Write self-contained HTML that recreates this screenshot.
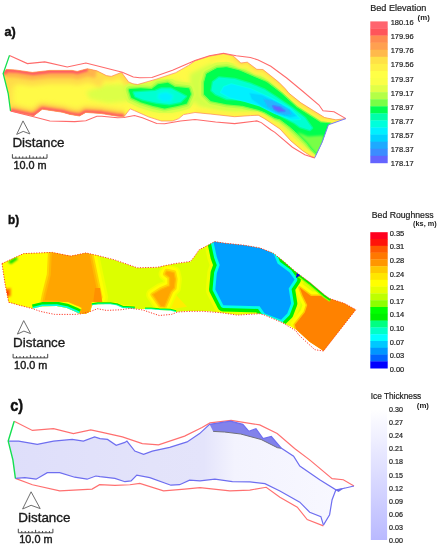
<!DOCTYPE html>
<html><head><meta charset="utf-8"><title>Figure</title>
<style>
html,body{margin:0;padding:0;background:#fff;}
body{width:442px;height:550px;overflow:hidden;font-family:"Liberation Sans",sans-serif;}
svg{display:block;}
text{font-family:"Liberation Sans",sans-serif;}
</style></head><body>
<svg width="442" height="550" viewBox="0 0 442 550">
<defs>
<filter id="b1" x="-20%" y="-20%" width="140%" height="140%"><feGaussianBlur stdDeviation="1"/></filter>
<filter id="b15" x="-20%" y="-20%" width="140%" height="140%"><feGaussianBlur stdDeviation="1.5"/></filter>
<filter id="b2" x="-20%" y="-20%" width="140%" height="140%"><feGaussianBlur stdDeviation="2"/></filter>
<filter id="b3" x="-30%" y="-30%" width="160%" height="160%"><feGaussianBlur stdDeviation="3"/></filter>
<filter id="b05" x="-20%" y="-20%" width="140%" height="140%"><feGaussianBlur stdDeviation="0.5"/></filter>

<clipPath id="ca"><polygon points="3.3,73.5 6.2,69.4 15.0,69.9 32.4,72.4 49.8,70.4 72.2,70.4 77.2,71.4 87.4,68.7 96.9,70.8 106.4,75.6 111.2,76.4 121.5,72.4 128.6,81.9 132.9,83.8 137.7,84.5 156.7,79.0 175.7,72.7 188.4,65.5 195.0,60.8 209.5,56.2 223.5,53.7 233.0,55.8 240.9,63.0 247.3,62.2 256.8,69.3 262.9,69.5 270.8,75.8 278.8,82.2 285.1,88.5 289.0,93.3 300.9,102.8 313.6,110.7 324.7,117.6 335.9,119.8 345.9,118.6 328.4,124.8 322.2,142.2 314.8,157.7 311.7,156.8 302.2,150.4 291.0,141.0 280.0,129.0 264.7,118.8 258.3,115.2 250.4,115.6 234.6,116.7 210.8,114.1 195.0,112.5 183.6,114.6 178.8,118.6 172.5,121.0 161.4,121.0 148.8,117.0 134.5,110.7 130.2,108.8 123.9,116.8 115.9,116.0 101.7,113.6 85.8,112.4 79.5,116.0 70.0,114.4 62.2,112.2 42.3,109.2 33.6,115.9 10.5,110.9 8.2,93.5"/></clipPath>
<clipPath id="cb"><polygon points="2.0,263.6 23.5,253.6 52.3,252.4 70.9,256.1 85.9,252.9 100.0,256.1 114.9,259.9 137.3,267.8 157.2,267.3 174.7,263.6 180.0,262.9 190.3,261.5 194.0,257.1 199.1,249.7 207.9,245.3 214.6,241.6 224.1,243.1 244.7,245.3 260.0,247.9 273.2,253.1 283.5,261.2 295.3,271.5 301.2,275.9 310.0,282.5 324.7,295.0 329.6,298.5 344.6,303.5 355.8,309.7 323.5,351.0 309.7,342.0 296.0,329.6 282.4,322.2 264.9,314.7 259.6,313.4 237.2,314.8 220.9,312.4 202.6,311.0 190.4,311.0 176.0,312.0 170.0,310.4 159.2,310.0 151.0,309.3 145.0,309.3 134.8,308.7 122.6,307.9 116.5,305.3 110.4,304.3 98.1,304.3 92.0,305.3 90.3,311.4 85.9,313.8 79.0,313.4 75.0,311.4 66.8,307.9 56.7,305.9 42.4,306.3 33.0,308.6 20.0,305.4 8.7,302.2 5.0,283.5"/></clipPath>
<clipPath id="cc"><polygon points="8.2,441.1 18.7,441.1 37.3,444.3 53.5,441.1 72.2,439.4 83.4,441.1 94.6,436.9 100.0,438.6 107.5,439.4 116.2,445.3 124.9,442.4 126.9,441.1 134.8,451.1 143.6,454.3 152.3,451.1 169.7,447.3 187.1,441.9 199.6,433.6 209.6,424.3 230.5,421.2 242.8,424.3 248.9,431.4 256.0,428.7 263.1,438.5 271.3,436.5 281.5,448.3 293.6,456.2 299.8,466.1 319.7,479.8 335.9,489.8 332.1,499.7 329.6,514.7 323.4,525.1 320.9,516.7 309.7,512.2 299.8,502.2 279.9,491.0 264.9,483.6 250.0,481.8 232.4,481.6 214.9,479.1 200.0,480.9 189.6,480.2 179.6,484.7 170.9,485.2 149.8,477.7 136.8,475.2 131.1,480.9 124.9,481.7 114.9,478.4 100.0,476.7 95.8,476.0 87.1,479.2 74.7,477.2 59.7,472.7 47.3,472.7 36.1,479.2 24.9,477.7 15.4,478.4 12.9,459.8"/></clipPath>
<linearGradient id="gc" gradientUnits="userSpaceOnUse" x1="0" y1="0" x2="340" y2="0"><stop offset="0" stop-color="#dedefa"/><stop offset="0.45" stop-color="#e3e3fa"/><stop offset="0.6" stop-color="#e4e4fb"/><stop offset="0.69" stop-color="#f3f3fe"/><stop offset="1" stop-color="#f8f8ff"/></linearGradient>
<linearGradient id="gbar" x1="0" y1="0" x2="0" y2="1"><stop offset="0" stop-color="#ffffff"/><stop offset="1" stop-color="#b9b9ff"/></linearGradient>
</defs>
<rect width="442" height="550" fill="#fff"/>
<g clip-path="url(#ca)">
<polygon points="3.3,73.5 6.2,69.4 15.0,69.9 32.4,72.4 49.8,70.4 72.2,70.4 77.2,71.4 87.4,68.7 96.9,70.8 106.4,75.6 111.2,76.4 121.5,72.4 128.6,81.9 132.9,83.8 137.7,84.5 156.7,79.0 175.7,72.7 188.4,65.5 195.0,60.8 209.5,56.2 223.5,53.7 233.0,55.8 240.9,63.0 247.3,62.2 256.8,69.3 262.9,69.5 270.8,75.8 278.8,82.2 285.1,88.5 289.0,93.3 300.9,102.8 313.6,110.7 324.7,117.6 335.9,119.8 345.9,118.6 328.4,124.8 322.2,142.2 314.8,157.7 311.7,156.8 302.2,150.4 291.0,141.0 280.0,129.0 264.7,118.8 258.3,115.2 250.4,115.6 234.6,116.7 210.8,114.1 195.0,112.5 183.6,114.6 178.8,118.6 172.5,121.0 161.4,121.0 148.8,117.0 134.5,110.7 130.2,108.8 123.9,116.8 115.9,116.0 101.7,113.6 85.8,112.4 79.5,116.0 70.0,114.4 62.2,112.2 42.3,109.2 33.6,115.9 10.5,110.9 8.2,93.5" fill="#fffa46"/>
<g filter="url(#b3)">
<polygon points="0,60 18,60 20,75 12,90 12,105 20,120 0,125" fill="#ffdc48"/>
</g>
<g filter="url(#b2)">
<polygon points="86,92 105,85 128,84 128,101 108,103 90,99" fill="#dcff46"/>
<polygon points="190,74 210,64 240,70 262,78 285,97 312,112 335,121 322,150 300,142 280,124 255,113 225,112 198,106 190,95" fill="#d2ff46"/>
<polygon points="124,87 150,83 166,79 182,82 196,88 195,100 188,108 172,112 152,111 138,106 126,98" fill="#d2ff46"/>
</g>
<g filter="url(#b2)">
<polyline points="3.3,73.5 6.2,69.4 15.0,69.9 32.4,72.4 49.8,70.4 72.2,70.4 77.2,71.4 87.4,68.7 96.9,70.8 106.4,75.6" fill="none" stroke="#ffdc48" stroke-width="27" stroke-linejoin="round"/>
<polyline points="10.5,110.9 33.6,115.9 42.3,109.2 62.2,112.2 70.0,114.4 79.5,116.0 85.8,112.4 101.7,113.6 115.9,116.0 123.9,116.8" fill="none" stroke="#ffdc48" stroke-width="14" stroke-linejoin="round"/>
<polyline points="96.9,70.8 106.4,75.6 111.2,76.4 121.5,72.4 128.6,81.9 132.9,83.8" fill="none" stroke="#ffdc48" stroke-width="9" stroke-linejoin="round"/>
</g>
<g filter="url(#b15)">
<polyline points="3.3,73.5 6.2,69.4 15.0,69.9 32.4,72.4 49.8,70.4 72.2,70.4 77.2,71.4 87.4,68.7 96.9,70.8" fill="none" stroke="#ffb44c" stroke-width="15" stroke-linejoin="round"/>
<polyline points="10.5,110.9 33.6,115.9 42.3,109.2 62.2,112.2 70.0,114.4 79.5,116.0 85.8,112.4 101.7,113.6 115.9,116.0 123.9,116.8" fill="none" stroke="#ffb44c" stroke-width="8.5" stroke-linejoin="round"/>
</g>
<g filter="url(#b1)">
<polyline points="3.3,73.5 6.2,69.4 15.0,69.9 32.4,72.4 49.8,70.4 72.2,70.4 77.2,71.4 87.4,68.7" fill="none" stroke="#ff5a64" stroke-width="5.5" stroke-linejoin="round"/>
<polyline points="10.5,110.9 33.6,115.9 42.3,109.2 62.2,112.2 70.0,114.4 79.5,116.0 85.8,112.4 101.7,113.6 115.9,116.0 123.9,116.8" fill="none" stroke="#ff5a64" stroke-width="4.5" stroke-linejoin="round"/>
<polygon points="22,113 33.6,117 42.3,109.2 46,109.5 36,112.5 30,113" fill="#ff5a64"/>
</g>
<g filter="url(#b05)">
<polygon points="129.8,90.1 140.8,89.3 151.9,90.1 158.3,85.3 167.8,83.8 174.1,87.7 188.4,89.3 189.9,94.1 186.0,102.8 177.3,105.1 164.6,107.5 153.5,105.1 140.8,101.2 132.1,97.2" fill="#00ff50" stroke="#d7ff46" stroke-width="13" stroke-linejoin="round"/>
<polygon points="129.8,90.1 140.8,89.3 151.9,90.1 158.3,85.3 167.8,83.8 174.1,87.7 188.4,89.3 189.9,94.1 186.0,102.8 177.3,105.1 164.6,107.5 153.5,105.1 140.8,101.2 132.1,97.2" fill="#00ff50" stroke="#b4ff46" stroke-width="8" stroke-linejoin="round"/>
<polygon points="129.8,90.1 140.8,89.3 151.9,90.1 158.3,85.3 167.8,83.8 174.1,87.7 188.4,89.3 189.9,94.1 186.0,102.8 177.3,105.1 164.6,107.5 153.5,105.1 140.8,101.2 132.1,97.2" fill="#00ff50" stroke="#78ff46" stroke-width="4.5" stroke-linejoin="round"/>
<polygon points="129.8,90.1 140.8,89.3 151.9,90.1 158.3,85.3 167.8,83.8 174.1,87.7 188.4,89.3 189.9,94.1 186.0,102.8 177.3,105.1 164.6,107.5 153.5,105.1 140.8,101.2 132.1,97.2" fill="#00ff50" stroke="#00ff50" stroke-width="2" stroke-linejoin="round"/>
<polygon points="129.8,90.1 140.8,89.3 151.9,90.1 158.3,85.3 167.8,83.8 174.1,87.7 188.4,89.3 189.9,94.1 186.0,102.8 177.3,105.1 164.6,107.5 153.5,105.1 140.8,101.2 132.1,97.2" fill="#00ff50"/>
</g>
<g filter="url(#b05)">
<polygon points="133.7,92.5 144.0,91.7 155.1,90.9 161.4,88.5 170.9,88.5 178.8,92.5 186.0,96.4 180.4,102.0 169.3,104.3 156.7,102.8 142.4,99.6 135.3,96.4" fill="#00ffd2" stroke="#00ff96" stroke-width="2.5" stroke-linejoin="round"/>
<polygon points="133.7,92.5 144.0,91.7 155.1,90.9 161.4,88.5 170.9,88.5 178.8,92.5 186.0,96.4 180.4,102.0 169.3,104.3 156.7,102.8 142.4,99.6 135.3,96.4" fill="#00ffd2"/>
</g>
<g filter="url(#b1)">
<polygon points="159.0,94.0 166.2,92.5 172.5,95.6 170.9,100.4 163.0,101.2 158.3,98.0" fill="#00f0ff" stroke="#00fff0" stroke-width="2" stroke-linejoin="round"/>
<polygon points="159.0,94.0 166.2,92.5 172.5,95.6 170.9,100.4 163.0,101.2 158.3,98.0" fill="#00f0ff"/>
</g>
<g filter="url(#b05)">
<polygon points="204.5,82.8 206.9,74.1 217.2,68.5 226.7,67.7 239.3,70.9 252.0,76.4 266.5,82.5 280.8,93.4 296.6,107.7 309.5,115.9 320.5,122.9 330.0,124.0 324.0,143.0 318.8,155.0 316.4,153.6 311.7,148.8 306.9,142.5 299.0,134.6 289.5,125.9 280.0,118.8 275.0,117.5 264.7,111.7 258.3,109.3 242.5,105.3 226.7,103.8 210.8,100.6 204.5,94.3" fill="none" stroke="#d7ff46" stroke-width="12" stroke-linejoin="round"/>
<polygon points="204.5,82.8 206.9,74.1 217.2,68.5 226.7,67.7 239.3,70.9 252.0,76.4 266.5,82.5 280.8,93.4 296.6,107.7 309.5,115.9 320.5,122.9 330.0,124.0 324.0,143.0 318.8,155.0 316.4,153.6 311.7,148.8 306.9,142.5 299.0,134.6 289.5,125.9 280.0,118.8 275.0,117.5 264.7,111.7 258.3,109.3 242.5,105.3 226.7,103.8 210.8,100.6 204.5,94.3" fill="none" stroke="#b4ff46" stroke-width="7" stroke-linejoin="round"/>
</g>
<g filter="url(#b1)">
<polyline points="209.5,56.2 223.5,53.7 233.0,55.8 240.9,63.0 247.3,62.2 256.8,69.3 262.9,69.5 270.8,75.8 278.8,82.2 285.1,88.5 289.0,93.3 300.9,102.8 313.6,110.7 324.7,117.6 335.9,119.8 345.9,118.6" fill="none" stroke="#fff246" stroke-width="11" stroke-linejoin="round"/>
<polyline points="233.0,55.8 240.9,63.0 247.3,62.2 256.8,69.3 262.9,69.5 270.8,75.8 278.8,82.2 285.1,88.5 289.0,93.3 300.9,102.8 313.6,110.7 324.7,117.6" fill="none" stroke="#ffe048" stroke-width="4" stroke-linejoin="round"/>
<polyline points="195.0,112.5 210.8,114.1 234.6,116.7 250.4,115.6 258.3,115.2 264.7,118.8 280.0,129.0 291.0,141.0 302.2,150.4 311.7,156.8 314.8,157.7" fill="none" stroke="#fff246" stroke-width="8" stroke-linejoin="round"/>
</g>
<g filter="url(#b05)">
<polygon points="204.5,82.8 206.9,74.1 217.2,68.5 226.7,67.7 239.3,70.9 252.0,76.4 266.5,82.5 280.8,93.4 296.6,107.7 309.5,115.9 320.5,122.9 330.0,124.0 324.0,143.0 318.8,155.0 316.4,153.6 311.7,148.8 306.9,142.5 299.0,134.6 289.5,125.9 280.0,118.8 275.0,117.5 264.7,111.7 258.3,109.3 242.5,105.3 226.7,103.8 210.8,100.6 204.5,94.3" fill="#00ff50" stroke="#78ff46" stroke-width="3.5" stroke-linejoin="round"/>
<polygon points="204.5,82.8 206.9,74.1 217.2,68.5 226.7,67.7 239.3,70.9 252.0,76.4 266.5,82.5 280.8,93.4 296.6,107.7 309.5,115.9 320.5,122.9 330.0,124.0 324.0,143.0 318.8,155.0 316.4,153.6 311.7,148.8 306.9,142.5 299.0,134.6 289.5,125.9 280.0,118.8 275.0,117.5 264.7,111.7 258.3,109.3 242.5,105.3 226.7,103.8 210.8,100.6 204.5,94.3" fill="#00ff50" stroke="#00ff50" stroke-width="1" stroke-linejoin="round"/>
<polygon points="204.5,82.8 206.9,74.1 217.2,68.5 226.7,67.7 239.3,70.9 252.0,76.4 266.5,82.5 280.8,93.4 296.6,107.7 309.5,115.9 320.5,122.9 330.0,124.0 324.0,143.0 318.8,155.0 316.4,153.6 311.7,148.8 306.9,142.5 299.0,134.6 289.5,125.9 280.0,118.8 275.0,117.5 264.7,111.7 258.3,109.3 242.5,105.3 226.7,103.8 210.8,100.6 204.5,94.3" fill="#00ff50"/>
</g>
<polygon points="297,132 308,136.5 323.5,135.5 322,148.8 318.8,154.6 316.4,153.6 311.7,148.8 306.9,142.5 299,134.6" fill="#78ff46" filter="url(#b1)"/>
<g filter="url(#b05)">
<polygon points="211.5,90.5 213.0,82.0 219.0,77.5 234.6,79.0 250.4,83.7 264.7,89.7 276.0,97.0 292.0,108.0 305.0,118.0 312.0,128.0 309.8,130.0 300.0,127.0 294.6,123.0 283.0,117.0 274.7,112.0 264.7,106.1 258.3,103.8 242.5,99.8 226.7,99.0 215.6,94.3" fill="#00ffd2" stroke="#00ff96" stroke-width="2.5" stroke-linejoin="round"/>
<polygon points="211.5,90.5 213.0,82.0 219.0,77.5 234.6,79.0 250.4,83.7 264.7,89.7 276.0,97.0 292.0,108.0 305.0,118.0 312.0,128.0 309.8,130.0 300.0,127.0 294.6,123.0 283.0,117.0 274.7,112.0 264.7,106.1 258.3,103.8 242.5,99.8 226.7,99.0 215.6,94.3" fill="#00ffd2"/>
</g>
<g filter="url(#b05)">
<polygon points="221.0,92.3 224.0,87.0 231.4,84.3 250.4,89.1 270.0,98.0 290.0,109.0 300.0,119.0 292.0,119.5 275.0,113.0 260.0,105.5 245.0,101.0 230.0,97.5" fill="#00f0ff" stroke="#00fff0" stroke-width="2" stroke-linejoin="round"/>
<polygon points="221.0,92.3 224.0,87.0 231.4,84.3 250.4,89.1 270.0,98.0 290.0,109.0 300.0,119.0 292.0,119.5 275.0,113.0 260.0,105.5 245.0,101.0 230.0,97.5" fill="#00f0ff"/>
</g>
<g filter="url(#b05)">
<polygon points="250.0,93.5 262.0,95.5 276.0,102.5 290.0,110.0 296.0,116.0 290.0,117.0 276.0,113.0 262.0,106.0 252.0,99.0" fill="#00d7ff" stroke="#00e8ff" stroke-width="2" stroke-linejoin="round"/>
<polygon points="250.0,93.5 262.0,95.5 276.0,102.5 290.0,110.0 296.0,116.0 290.0,117.0 276.0,113.0 262.0,106.0 252.0,99.0" fill="#00d7ff"/>
</g>
<g filter="url(#b05)">
<polygon points="264.0,99.5 272.0,101.0 281.0,105.5 289.0,110.5 291.0,114.0 285.0,114.5 277.0,112.0 268.0,106.5" fill="#28b4ff" stroke="#10c8ff" stroke-width="2" stroke-linejoin="round"/>
<polygon points="264.0,99.5 272.0,101.0 281.0,105.5 289.0,110.5 291.0,114.0 285.0,114.5 277.0,112.0 268.0,106.5" fill="#28b4ff"/>
</g>
<g filter="url(#b05)">
<polygon points="273.0,106.0 280.0,107.5 284.5,111.0 279.0,111.3 274.5,109.0" fill="#6464ff" stroke="#3c8cff" stroke-width="2.5" stroke-linejoin="round"/>
<polygon points="273.0,106.0 280.0,107.5 284.5,111.0 279.0,111.3 274.5,109.0" fill="#6464ff"/>
</g>
</g>
<polyline points="3.3,73.5 6.2,69.4 15.0,69.9 32.4,72.4 49.8,70.4 72.2,70.4 77.2,71.4 87.4,68.7 96.9,70.8 106.4,75.6 111.2,76.4 121.5,72.4 128.6,81.9 132.9,83.8 137.7,84.5 156.7,79.0 175.7,72.7 188.4,65.5 195.0,60.8 209.5,56.2 223.5,53.7 233.0,55.8 240.9,63.0 247.3,62.2 256.8,69.3 262.9,69.5 270.8,75.8 278.8,82.2 285.1,88.5 289.0,93.3 300.9,102.8 313.6,110.7 324.7,117.6 335.9,119.8 345.9,118.6" fill="none" stroke="#ff8c5a" stroke-width="1" stroke-opacity="0.75"/>
<polyline points="10.5,110.9 33.6,115.9 42.3,109.2 62.2,112.2 70.0,114.4 79.5,116.0 85.8,112.4 101.7,113.6 115.9,116.0 123.9,116.8 130.2,108.8 134.5,110.7 148.8,117.0 161.4,121.0 172.5,121.0 178.8,118.6 183.6,114.6 195.0,112.5 210.8,114.1 234.6,116.7 250.4,115.6 258.3,115.2 264.7,118.8 280.0,129.0 291.0,141.0 302.2,150.4 311.7,156.8 314.8,157.7" fill="none" stroke="#ff8c5a" stroke-width="1" stroke-opacity="0.75"/>
<polyline points="9.5,55.4 27.4,63.6 44.8,61.9 67.2,66.9 85.9,63.1 101.7,66.9 122.3,72.2 133.3,77.0 139.7,77.8 151.9,77.4 172.5,70.3 185.2,64.8 195.0,60.4 209.5,55.8 223.5,53.2 236.2,55.8 250.4,57.4 258.2,60.0 270.8,66.3 286.7,78.0 303.0,91.5 319.0,105.0 323.0,110.8 334.0,111.8 345.9,118.6" fill="none" stroke="#ff6a6a" stroke-width="1.05"/>
<polyline points="10.5,110.9 33.6,116.7 49.8,120.9 74.7,121.6 85.8,120.7 96.9,116.3 101.7,116.3 117.5,117.8 123.9,117.4 134.5,115.6 142.4,117.8 156.7,123.4 164.6,123.7 180.4,121.0 195.0,119.6 215.6,122.0 234.6,123.6 256.8,120.9 261.3,122.6 270.8,129.7 274.9,132.3 292.4,147.2 304.8,154.7 314.8,158.1" fill="none" stroke="#ff6a6a" stroke-width="1.05"/>
<polyline points="9.5,55.4 3.2,73.6 8.2,93.5 10.5,110.9" fill="none" stroke="#14e050" stroke-width="1.3"/>
<polyline points="345.9,118.6 328.4,124.8 322.2,142.2 314.8,157.7" fill="none" stroke="#7a7aff" stroke-width="1"/>
<g clip-path="url(#cb)">
<polygon points="2.0,263.6 23.5,253.6 52.3,252.4 70.9,256.1 85.9,252.9 100.0,256.1 114.9,259.9 137.3,267.8 157.2,267.3 174.7,263.6 180.0,262.9 190.3,261.5 194.0,257.1 199.1,249.7 207.9,245.3 214.6,241.6 224.1,243.1 244.7,245.3 260.0,247.9 273.2,253.1 283.5,261.2 295.3,271.5 301.2,275.9 310.0,282.5 324.7,295.0 329.6,298.5 344.6,303.5 355.8,309.7 323.5,351.0 309.7,342.0 296.0,329.6 282.4,322.2 264.9,314.7 259.6,313.4 237.2,314.8 220.9,312.4 202.6,311.0 190.4,311.0 176.0,312.0 170.0,310.4 159.2,310.0 151.0,309.3 145.0,309.3 134.8,308.7 122.6,307.9 116.5,305.3 110.4,304.3 98.1,304.3 92.0,305.3 90.3,311.4 85.9,313.8 79.0,313.4 75.0,311.4 66.8,307.9 56.7,305.9 42.4,306.3 33.0,308.6 20.0,305.4 8.7,302.2 5.0,283.5" fill="#dcff00"/>
<g filter="url(#b05)">
<polygon points="51.0,250.0 89.6,250.0 95.8,279.8 99.6,297.2 92.3,304.3 90.3,311.4 85.9,316.0 79.0,313.4 75.0,311.4 70.0,304.5 60.0,302.0 43.6,300.9 44.8,294.7 49.8,274.8" fill="#ffa500" stroke="#f0ff00" stroke-width="17" stroke-linejoin="round"/>
</g>
<g filter="url(#b1)">
<polygon points="0,240 60,240 60,320 0,320" fill="#ffff00"/>
</g>
<g filter="url(#b05)">
<polygon points="51.0,250.0 89.6,250.0 95.8,279.8 99.6,297.2 92.3,304.3 90.3,311.4 85.9,316.0 79.0,313.4 75.0,311.4 70.0,304.5 60.0,302.0 43.6,300.9 44.8,294.7 49.8,274.8" fill="#ffa500" stroke="#ffff00" stroke-width="12" stroke-linejoin="round"/>
<polygon points="51.0,250.0 89.6,250.0 95.8,279.8 99.6,297.2 92.3,304.3 90.3,311.4 85.9,316.0 79.0,313.4 75.0,311.4 70.0,304.5 60.0,302.0 43.6,300.9 44.8,294.7 49.8,274.8" fill="#ffa500" stroke="#ffd200" stroke-width="6" stroke-linejoin="round"/>
<polygon points="51.0,250.0 89.6,250.0 95.8,279.8 99.6,297.2 92.3,304.3 90.3,311.4 85.9,316.0 79.0,313.4 75.0,311.4 70.0,304.5 60.0,302.0 43.6,300.9 44.8,294.7 49.8,274.8" fill="#ffa500" stroke="#ffb800" stroke-width="2" stroke-linejoin="round"/>
<polygon points="95,288 100,288 102.5,303 93,304" fill="#ff9000" filter="url(#b05)"/>
<polygon points="171,291 185,306 165,309" fill="#ffee00" stroke="#ffee00" stroke-width="2"/>
<polygon points="166.6,271.0 174.0,272.5 175.4,279.1 174.4,287.9 171.0,291.6 164.4,307.0 160.7,306.3 152.6,294.6 160.7,289.4 169.6,285.7 169.6,277.6 165.1,274.0" fill="#ffa500" stroke="#f0ff00" stroke-width="13" stroke-linejoin="round"/>
<polygon points="166.6,271.0 174.0,272.5 175.4,279.1 174.4,287.9 171.0,291.6 164.4,307.0 160.7,306.3 152.6,294.6 160.7,289.4 169.6,285.7 169.6,277.6 165.1,274.0" fill="#ffa500" stroke="#ffff00" stroke-width="9.5" stroke-linejoin="round"/>
<polygon points="166.6,271.0 174.0,272.5 175.4,279.1 174.4,287.9 171.0,291.6 164.4,307.0 160.7,306.3 152.6,294.6 160.7,289.4 169.6,285.7 169.6,277.6 165.1,274.0" fill="#ffa500" stroke="#ffd800" stroke-width="4.5" stroke-linejoin="round"/>
<polygon points="166.6,271.0 174.0,272.5 175.4,279.1 174.4,287.9 171.0,291.6 164.4,307.0 160.7,306.3 152.6,294.6 160.7,289.4 169.6,285.7 169.6,277.6 165.1,274.0" fill="#ffa500" stroke="#ffb800" stroke-width="1.2" stroke-linejoin="round"/>
</g>
<g filter="url(#b05)">
<polygon points="213.1,240.0 224.1,240.0 244.7,242.0 260.0,245.0 274.0,254.6 277.6,263.4 289.4,272.2 294.6,279.6 288.7,288.4 291.1,303.5 287.3,313.5 281.1,319.7 264.7,313.4 259.6,306.3 223.3,305.3 215.3,289.4 216.8,273.2 219.7,265.1 216.8,257.1" fill="none" stroke="#f0ff00" stroke-width="19" stroke-linejoin="round"/>
<polygon points="299.7,287.6 311.0,296.0 329.6,296.0 344.6,300.0 360.0,309.7 323.5,356.0 309.7,344.0 297.4,334.0 294.9,324.8 304.8,312.4 307.3,304.9 302.4,295.0" fill="#ff8200" stroke="#ffff00" stroke-width="9" stroke-linejoin="round"/>
<polygon points="299.7,287.6 311.0,296.0 329.6,296.0 344.6,300.0 360.0,309.7 323.5,356.0 309.7,344.0 297.4,334.0 294.9,324.8 304.8,312.4 307.3,304.9 302.4,295.0" fill="#ff8200" stroke="#ffc800" stroke-width="3" stroke-linejoin="round"/>
<polygon points="213.1,240.0 224.1,240.0 244.7,242.0 260.0,245.0 274.0,254.6 277.6,263.4 289.4,272.2 294.6,279.6 288.7,288.4 291.1,303.5 287.3,313.5 281.1,319.7 264.7,313.4 259.6,306.3 223.3,305.3 215.3,289.4 216.8,273.2 219.7,265.1 216.8,257.1" fill="none" stroke="#00f000" stroke-width="12.5" stroke-linejoin="round"/>
<polygon points="213.1,240.0 224.1,240.0 244.7,242.0 260.0,245.0 274.0,254.6 277.6,263.4 289.4,272.2 294.6,279.6 288.7,288.4 291.1,303.5 287.3,313.5 281.1,319.7 264.7,313.4 259.6,306.3 223.3,305.3 215.3,289.4 216.8,273.2 219.7,265.1 216.8,257.1" fill="#00a0ff" stroke="#00ffe6" stroke-width="5.5" stroke-linejoin="round"/>
<polygon points="213.1,240.0 224.1,240.0 244.7,242.0 260.0,245.0 274.0,254.6 277.6,263.4 289.4,272.2 294.6,279.6 288.7,288.4 291.1,303.5 287.3,313.5 281.1,319.7 264.7,313.4 259.6,306.3 223.3,305.3 215.3,289.4 216.8,273.2 219.7,265.1 216.8,257.1" fill="#00a0ff"/>
<polygon points="299.7,287.6 311.0,296.0 329.6,296.0 344.6,300.0 360.0,309.7 323.5,356.0 309.7,344.0 297.4,334.0 294.9,324.8 304.8,312.4 307.3,304.9 302.4,295.0" fill="#ff8200"/>
<polyline points="297.0,273.0 301.2,275.9 310.0,282.5 324.7,295.0 331.0,299.3" fill="none" stroke="#a0ff00" stroke-width="6" stroke-linejoin="round"/>
<polyline points="297.0,273.0 301.2,275.9 310.0,282.5 324.7,295.0 331.0,299.3" fill="none" stroke="#00f000" stroke-width="3.6" stroke-linejoin="round"/>
</g>
<g filter="url(#b05)">
<polyline points="33.0,308.6 42.4,306.3 56.7,305.9 66.8,307.9 75.0,311.4 79.0,313.4" fill="none" stroke="#ffff00" stroke-width="12.0" stroke-linejoin="round"/>
<polyline points="33.0,308.6 42.4,306.3 56.7,305.9 66.8,307.9 75.0,311.4 79.0,313.4" fill="none" stroke="#00f000" stroke-width="8.5" stroke-linejoin="round"/>
<polyline points="33.0,308.6 42.4,306.3 56.7,305.9 66.8,307.9 75.0,311.4 79.0,313.4" fill="none" stroke="#00ffe6" stroke-width="3.5" stroke-linejoin="round"/>
<polyline points="92.0,305.3 98.1,304.3 110.4,304.3 116.5,305.3 122.6,307.9 134.8,308.7" fill="none" stroke="#ffff00" stroke-width="6.0" stroke-linejoin="round"/>
<polyline points="92.0,305.3 98.1,304.3 110.4,304.3 116.5,305.3 122.6,307.9 134.8,308.7" fill="none" stroke="#00f000" stroke-width="4.25" stroke-linejoin="round"/>
<polyline points="92.0,305.3 98.1,304.3 110.4,304.3 116.5,305.3 122.6,307.9 134.8,308.7" fill="none" stroke="#00ffe6" stroke-width="1.75" stroke-linejoin="round"/>
<polyline points="145.0,309.3 151.0,309.3 159.2,310.0 170.0,310.4 176.0,312.0" fill="none" stroke="#ffff00" stroke-width="4.800000000000001" stroke-linejoin="round"/>
<polyline points="145.0,309.3 151.0,309.3 159.2,310.0 170.0,310.4 176.0,312.0" fill="none" stroke="#00f000" stroke-width="3.4000000000000004" stroke-linejoin="round"/>
<polyline points="145.0,309.3 151.0,309.3 159.2,310.0 170.0,310.4 176.0,312.0" fill="none" stroke="#00ffe6" stroke-width="1.4000000000000001" stroke-linejoin="round"/>
</g>
<g filter="url(#b1)">
<polygon points="8,262 16,257 18,259 11,264" fill="#00e000"/>
<polygon points="3,289 11,288 11,296 5,298" fill="#ff9000"/>
<polygon points="4,291 8.5,290 8.5,295.5 5.5,297" fill="#ff1400"/>
</g>
<polygon points="296,278 296.8,272.2 300.5,275.3" fill="#0000e0"/>
</g>
<polyline points="2.0,263.6 23.5,253.6 52.3,252.4 70.9,256.1 85.9,252.9 100.0,256.1 114.9,259.9 137.3,267.8 157.2,267.3 174.7,263.6 180.0,262.9 190.3,261.5 194.0,257.1 199.1,249.7 207.9,245.3 214.6,241.6 224.1,243.1 244.7,245.3 260.0,247.9 273.2,253.1 283.5,261.2 295.3,271.5 301.2,275.9 310.0,282.5 324.7,295.0 329.6,298.5 344.6,303.5 355.8,309.7 323.5,351.0" fill="none" stroke="#ff3a2a" stroke-width="1" stroke-dasharray="1.2,1.4"/>
<polyline points="2.0,263.6 5.0,283.5 8.7,302.2" fill="none" stroke="#ff3a2a" stroke-width="1" stroke-dasharray="1.2,1.4"/>
<polyline points="8.7,302.2 20.0,305.4 33.0,308.8 40.4,311.4 54.6,314.4 74.7,314.4 81.0,313.8 90.3,311.6 97.4,308.7 106.3,310.4 120.5,309.8 130.7,308.3 143.0,310.0 151.0,312.8 159.2,315.5 171.5,314.4 177.6,312.0 190.4,311.3 202.6,311.3 220.9,312.7 237.2,315.1 259.6,313.7 264.9,315.2 282.4,322.7 296.0,330.8 298.6,334.8 314.8,349.7 323.5,351.0" fill="none" stroke="#ff3a2a" stroke-width="1" stroke-dasharray="1.2,1.4"/>
<polygon points="8.2,441.1 18.7,441.1 37.3,444.3 53.5,441.1 72.2,439.4 83.4,441.1 94.6,436.9 100.0,438.6 107.5,439.4 116.2,445.3 124.9,442.4 126.9,441.1 134.8,451.1 143.6,454.3 152.3,451.1 169.7,447.3 187.1,441.9 199.6,433.6 209.6,424.3 230.5,421.2 242.8,424.3 248.9,431.4 256.0,428.7 263.1,438.5 271.3,436.5 281.5,448.3 293.6,456.2 299.8,466.1 319.7,479.8 335.9,489.8 332.1,499.7 329.6,514.7 323.4,525.1 320.9,516.7 309.7,512.2 299.8,502.2 279.9,491.0 264.9,483.6 250.0,481.8 232.4,481.6 214.9,479.1 200.0,480.9 189.6,480.2 179.6,484.7 170.9,485.2 149.8,477.7 136.8,475.2 131.1,480.9 124.9,481.7 114.9,478.4 100.0,476.7 95.8,476.0 87.1,479.2 74.7,477.2 59.7,472.7 47.3,472.7 36.1,479.2 24.9,477.7 15.4,478.4 12.9,459.8" fill="url(#gc)"/>
<polygon points="209.6,424.3 230.5,421.2 242.8,424.3 248.9,431.4 256.0,428.7 263.1,438.5 271.3,436.5 281.5,448.3 277.4,447.7 261.1,439.5 240.7,434.0 224.4,432.0 213.2,431.4" fill="#8282eb"/>
<polyline points="281.5,448.3 277.4,447.7 261.1,439.5 240.7,434.0 224.4,432.0 213.2,431.4" fill="none" stroke="#70707c" stroke-width="1"/>
<polygon points="335.3,489.9 345,487.5 338.5,492" fill="#6a6ae6"/>
<polyline points="14.2,421.2 32.4,430.4 53.5,428.7 73.4,433.6 90.8,429.9 100.0,431.9 122.4,436.9 142.3,443.6 158.5,444.8 184.6,436.1 202.0,427.4 210.0,422.9 231.1,420.4 259.7,424.9 277.2,433.6 294.6,448.5 309.7,459.9 332.1,478.6 343.3,479.8 354.0,486.0" fill="none" stroke="#ff7070" stroke-width="1.15"/>
<polyline points="15.4,478.4 32.4,484.7 59.7,490.9 92.1,489.1 99.6,484.7 114.9,485.4 129.9,484.7 139.8,483.4 163.5,490.9 184.6,489.1 200.0,487.6 229.9,490.8 249.8,490.1 266.2,487.3 279.9,497.2 297.3,507.2 307.2,519.6 323.4,525.9" fill="none" stroke="#ff7070" stroke-width="1.15"/>
<polyline points="8.2,441.1 18.7,441.1 37.3,444.3 53.5,441.1 72.2,439.4 83.4,441.1 94.6,436.9 100.0,438.6 107.5,439.4 116.2,445.3 124.9,442.4 126.9,441.1 134.8,451.1 143.6,454.3 152.3,451.1 169.7,447.3 187.1,441.9 199.6,433.6 209.6,424.3 230.5,421.2 242.8,424.3 248.9,431.4 256.0,428.7 263.1,438.5 271.3,436.5 281.5,448.3 293.6,456.2 299.8,466.1 319.7,479.8 335.9,489.8 343.3,488.5 354.0,486.0" fill="none" stroke="#6e6ef0" stroke-width="1.2"/>
<polyline points="15.4,478.4 24.9,477.7 36.1,479.2 47.3,472.7 59.7,472.7 74.7,477.2 87.1,479.2 95.8,476.0 100.0,476.7 114.9,478.4 124.9,481.7 131.1,480.9 136.8,475.2 149.8,477.7 170.9,485.2 179.6,484.7 189.6,480.2 200.0,480.9 214.9,479.1 232.4,481.6 250.0,481.8 264.9,483.6 279.9,491.0 299.8,502.2 309.7,512.2 320.9,516.7 323.4,525.1" fill="none" stroke="#6e6ef0" stroke-width="1.2"/>
<polyline points="335.9,489.8 332.1,499.7 329.6,514.7 323.4,525.1" fill="none" stroke="#6e6ef0" stroke-width="1.2"/>
<polyline points="14.2,421.2 8.2,441.1 12.9,459.8 15.4,478.4" fill="none" stroke="#14e050" stroke-width="1.4"/>
<g transform="translate(0,0)">
<polygon points="23,120.9 16.7,134.4 23.2,131.4 29.9,133.9" fill="#fff" stroke="#6e6e6e" stroke-width="1" stroke-linejoin="miter"/>
<text x="12.4" y="147.3" font-size="13.5" fill="#1a1a1a" stroke="#1a1a1a" stroke-width="0.35" textLength="52.2" lengthAdjust="spacingAndGlyphs">Distance</text>
<path d="M12.4,154.2V158.2H47V154.2M15.86,158.2v-1.8M19.32,158.2v-1.8M22.78,158.2v-1.8M26.24,158.2v-1.8M29.70,158.2v-3M33.16,158.2v-1.8M36.62,158.2v-1.8M40.08,158.2v-1.8M43.54,158.2v-1.8" fill="none" stroke="#333" stroke-width="0.9"/>
<text x="13.4" y="168.9" font-size="10.6" fill="#1a1a1a" stroke="#1a1a1a" stroke-width="0.4" textLength="33.2" lengthAdjust="spacingAndGlyphs">10.0 m</text>
</g>
<g transform="translate(0.7,199.7)">
<polygon points="23,120.9 16.7,134.4 23.2,131.4 29.9,133.9" fill="#fff" stroke="#6e6e6e" stroke-width="1" stroke-linejoin="miter"/>
<text x="12.4" y="147.3" font-size="13.5" fill="#1a1a1a" stroke="#1a1a1a" stroke-width="0.35" textLength="52.2" lengthAdjust="spacingAndGlyphs">Distance</text>
<path d="M12.4,154.2V158.2H47V154.2M15.86,158.2v-1.8M19.32,158.2v-1.8M22.78,158.2v-1.8M26.24,158.2v-1.8M29.70,158.2v-3M33.16,158.2v-1.8M36.62,158.2v-1.8M40.08,158.2v-1.8M43.54,158.2v-1.8" fill="none" stroke="#333" stroke-width="0.9"/>
<text x="13.4" y="168.9" font-size="10.6" fill="#1a1a1a" stroke="#1a1a1a" stroke-width="0.4" textLength="33.2" lengthAdjust="spacingAndGlyphs">10.0 m</text>
</g>
<g transform="translate(5.9,374.6)">
<polygon points="25.2,117.2 16.7,134.4 25.2,130.7 34.3,134" fill="#fff" stroke="#6e6e6e" stroke-width="1" stroke-linejoin="miter"/>
<text x="12.4" y="147.3" font-size="13.5" fill="#1a1a1a" stroke="#1a1a1a" stroke-width="0.35" textLength="52.2" lengthAdjust="spacingAndGlyphs">Distance</text>
<path d="M12.4,154.2V158.2H47V154.2M15.86,158.2v-1.8M19.32,158.2v-1.8M22.78,158.2v-1.8M26.24,158.2v-1.8M29.70,158.2v-3M33.16,158.2v-1.8M36.62,158.2v-1.8M40.08,158.2v-1.8M43.54,158.2v-1.8" fill="none" stroke="#333" stroke-width="0.9"/>
<text x="13.4" y="168.9" font-size="10.6" fill="#1a1a1a" stroke="#1a1a1a" stroke-width="0.4" textLength="33.2" lengthAdjust="spacingAndGlyphs">10.0 m</text>
</g>
<text x="4.5" y="35.9" font-size="13.6" font-weight="bold" fill="#111" stroke="#111" stroke-width="0.45" textLength="11.3" lengthAdjust="spacingAndGlyphs">a)</text>
<text x="8.1" y="223.5" font-size="13.2" font-weight="bold" fill="#111" stroke="#111" stroke-width="0.45" textLength="11.1" lengthAdjust="spacingAndGlyphs">b)</text>
<text x="10.2" y="411.3" font-size="16.3" font-weight="bold" fill="#111" stroke="#111" stroke-width="0.45" textLength="13" lengthAdjust="spacingAndGlyphs">c)</text>
<text x="370.2" y="11.2" font-size="9.1" fill="#222" stroke="#222" stroke-width="0.2">Bed Elevation</text>
<text x="417.6" y="19.8" font-size="7.7" font-weight="bold" fill="#222" textLength="12.2" lengthAdjust="spacingAndGlyphs">(m)</text>
<rect x="370.3" y="21.40" width="17.4" height="7.38" fill="rgb(255, 100, 110)"/>
<rect x="370.3" y="28.47" width="17.4" height="7.38" fill="rgb(255, 85, 90)"/>
<rect x="370.3" y="35.55" width="17.4" height="7.38" fill="rgb(255, 140, 80)"/>
<rect x="370.3" y="42.62" width="17.4" height="7.38" fill="rgb(255, 160, 80)"/>
<rect x="370.3" y="49.70" width="17.4" height="7.38" fill="rgb(255, 185, 75)"/>
<rect x="370.3" y="56.77" width="17.4" height="7.38" fill="rgb(255, 225, 70)"/>
<rect x="370.3" y="63.85" width="17.4" height="7.38" fill="rgb(255, 240, 70)"/>
<rect x="370.3" y="70.92" width="17.4" height="7.38" fill="rgb(255, 255, 70)"/>
<rect x="370.3" y="78.00" width="17.4" height="7.38" fill="rgb(250, 255, 70)"/>
<rect x="370.3" y="85.08" width="17.4" height="7.38" fill="rgb(225, 255, 70)"/>
<rect x="370.3" y="92.15" width="17.4" height="7.38" fill="rgb(180, 255, 70)"/>
<rect x="370.3" y="99.22" width="17.4" height="7.38" fill="rgb(120, 255, 70)"/>
<rect x="370.3" y="106.30" width="17.4" height="7.38" fill="rgb(0, 255, 80)"/>
<rect x="370.3" y="113.38" width="17.4" height="7.38" fill="rgb(0, 255, 170)"/>
<rect x="370.3" y="120.45" width="17.4" height="7.38" fill="rgb(0, 255, 220)"/>
<rect x="370.3" y="127.53" width="17.4" height="7.38" fill="rgb(0, 240, 255)"/>
<rect x="370.3" y="134.60" width="17.4" height="7.38" fill="rgb(0, 210, 255)"/>
<rect x="370.3" y="141.68" width="17.4" height="7.38" fill="rgb(30, 170, 255)"/>
<rect x="370.3" y="148.75" width="17.4" height="7.38" fill="rgb(60, 140, 255)"/>
<rect x="370.3" y="155.83" width="17.4" height="7.38" fill="rgb(100, 100, 255)"/>
<text x="390.7" y="25.10" font-size="7.5" fill="#222" stroke="#222" stroke-width="0.2">180.16</text>
<text x="390.7" y="39.21" font-size="7.5" fill="#222" stroke="#222" stroke-width="0.2">179.96</text>
<text x="390.7" y="53.32" font-size="7.5" fill="#222" stroke="#222" stroke-width="0.2">179.76</text>
<text x="390.7" y="67.43" font-size="7.5" fill="#222" stroke="#222" stroke-width="0.2">179.56</text>
<text x="390.7" y="81.54" font-size="7.5" fill="#222" stroke="#222" stroke-width="0.2">179.37</text>
<text x="390.7" y="95.65" font-size="7.5" fill="#222" stroke="#222" stroke-width="0.2">179.17</text>
<text x="390.7" y="109.76" font-size="7.5" fill="#222" stroke="#222" stroke-width="0.2">178.97</text>
<text x="390.7" y="123.87" font-size="7.5" fill="#222" stroke="#222" stroke-width="0.2">178.77</text>
<text x="390.7" y="137.98" font-size="7.5" fill="#222" stroke="#222" stroke-width="0.2">178.57</text>
<text x="390.7" y="152.09" font-size="7.5" fill="#222" stroke="#222" stroke-width="0.2">178.37</text>
<text x="390.7" y="166.20" font-size="7.5" fill="#222" stroke="#222" stroke-width="0.2">178.17</text>
<text x="371.8" y="218.3" font-size="8.7" fill="#222" stroke="#222" stroke-width="0.2">Bed Roughness</text>
<text x="413.1" y="226" font-size="7.3" font-weight="bold" fill="#222">(ks, m)</text>
<rect x="370.3" y="232.20" width="17.4" height="7.10" fill="rgb(255, 0, 30)"/>
<rect x="370.3" y="239.00" width="17.4" height="7.10" fill="rgb(255, 20, 10)"/>
<rect x="370.3" y="245.80" width="17.4" height="7.10" fill="rgb(255, 90, 0)"/>
<rect x="370.3" y="252.60" width="17.4" height="7.10" fill="rgb(255, 120, 0)"/>
<rect x="370.3" y="259.40" width="17.4" height="7.10" fill="rgb(255, 150, 0)"/>
<rect x="370.3" y="266.20" width="17.4" height="7.10" fill="rgb(255, 200, 0)"/>
<rect x="370.3" y="273.00" width="17.4" height="7.10" fill="rgb(255, 230, 0)"/>
<rect x="370.3" y="279.80" width="17.4" height="7.10" fill="rgb(255, 255, 0)"/>
<rect x="370.3" y="286.60" width="17.4" height="7.10" fill="rgb(230, 255, 0)"/>
<rect x="370.3" y="293.40" width="17.4" height="7.10" fill="rgb(190, 255, 0)"/>
<rect x="370.3" y="300.20" width="17.4" height="7.10" fill="rgb(140, 255, 0)"/>
<rect x="370.3" y="307.00" width="17.4" height="7.10" fill="rgb(0, 255, 0)"/>
<rect x="370.3" y="313.80" width="17.4" height="7.10" fill="rgb(0, 240, 0)"/>
<rect x="370.3" y="320.60" width="17.4" height="7.10" fill="rgb(0, 255, 130)"/>
<rect x="370.3" y="327.40" width="17.4" height="7.10" fill="rgb(0, 255, 200)"/>
<rect x="370.3" y="334.20" width="17.4" height="7.10" fill="rgb(0, 255, 255)"/>
<rect x="370.3" y="341.00" width="17.4" height="7.10" fill="rgb(0, 200, 255)"/>
<rect x="370.3" y="347.80" width="17.4" height="7.10" fill="rgb(0, 150, 255)"/>
<rect x="370.3" y="354.60" width="17.4" height="7.10" fill="rgb(0, 100, 255)"/>
<rect x="370.3" y="361.40" width="17.4" height="7.10" fill="rgb(0, 0, 255)"/>
<text x="389.7" y="235.90" font-size="7.5" fill="#222" stroke="#222" stroke-width="0.2">0.35</text>
<text x="389.7" y="249.48" font-size="7.5" fill="#222" stroke="#222" stroke-width="0.2">0.31</text>
<text x="389.7" y="263.06" font-size="7.5" fill="#222" stroke="#222" stroke-width="0.2">0.28</text>
<text x="389.7" y="276.64" font-size="7.5" fill="#222" stroke="#222" stroke-width="0.2">0.24</text>
<text x="389.7" y="290.22" font-size="7.5" fill="#222" stroke="#222" stroke-width="0.2">0.21</text>
<text x="389.7" y="303.80" font-size="7.5" fill="#222" stroke="#222" stroke-width="0.2">0.17</text>
<text x="389.7" y="317.38" font-size="7.5" fill="#222" stroke="#222" stroke-width="0.2">0.14</text>
<text x="389.7" y="330.96" font-size="7.5" fill="#222" stroke="#222" stroke-width="0.2">0.10</text>
<text x="389.7" y="344.54" font-size="7.5" fill="#222" stroke="#222" stroke-width="0.2">0.07</text>
<text x="389.7" y="358.12" font-size="7.5" fill="#222" stroke="#222" stroke-width="0.2">0.03</text>
<text x="389.7" y="371.70" font-size="7.5" fill="#222" stroke="#222" stroke-width="0.2">0.00</text>
<text x="370.7" y="398.7" font-size="8.3" fill="#222" stroke="#222" stroke-width="0.2">Ice Thickness</text>
<text x="416.8" y="408" font-size="7.7" font-weight="bold" fill="#222" textLength="12.2" lengthAdjust="spacingAndGlyphs">(m)</text>
<rect x="370.8" y="409" width="16.3" height="131" fill="url(#gbar)"/>
<text x="389.1" y="412.06" font-size="7.1" fill="#222" stroke="#222" stroke-width="0.2">0.30</text>
<text x="389.1" y="425.16" font-size="7.1" fill="#222" stroke="#222" stroke-width="0.2">0.27</text>
<text x="389.1" y="438.26" font-size="7.1" fill="#222" stroke="#222" stroke-width="0.2">0.24</text>
<text x="389.1" y="451.36" font-size="7.1" fill="#222" stroke="#222" stroke-width="0.2">0.21</text>
<text x="389.1" y="464.46" font-size="7.1" fill="#222" stroke="#222" stroke-width="0.2">0.18</text>
<text x="389.1" y="477.56" font-size="7.1" fill="#222" stroke="#222" stroke-width="0.2">0.15</text>
<text x="389.1" y="490.66" font-size="7.1" fill="#222" stroke="#222" stroke-width="0.2">0.12</text>
<text x="389.1" y="503.76" font-size="7.1" fill="#222" stroke="#222" stroke-width="0.2">0.09</text>
<text x="389.1" y="516.86" font-size="7.1" fill="#222" stroke="#222" stroke-width="0.2">0.06</text>
<text x="389.1" y="529.96" font-size="7.1" fill="#222" stroke="#222" stroke-width="0.2">0.03</text>
<text x="389.1" y="543.06" font-size="7.1" fill="#222" stroke="#222" stroke-width="0.2">0.00</text>
</svg></body></html>
